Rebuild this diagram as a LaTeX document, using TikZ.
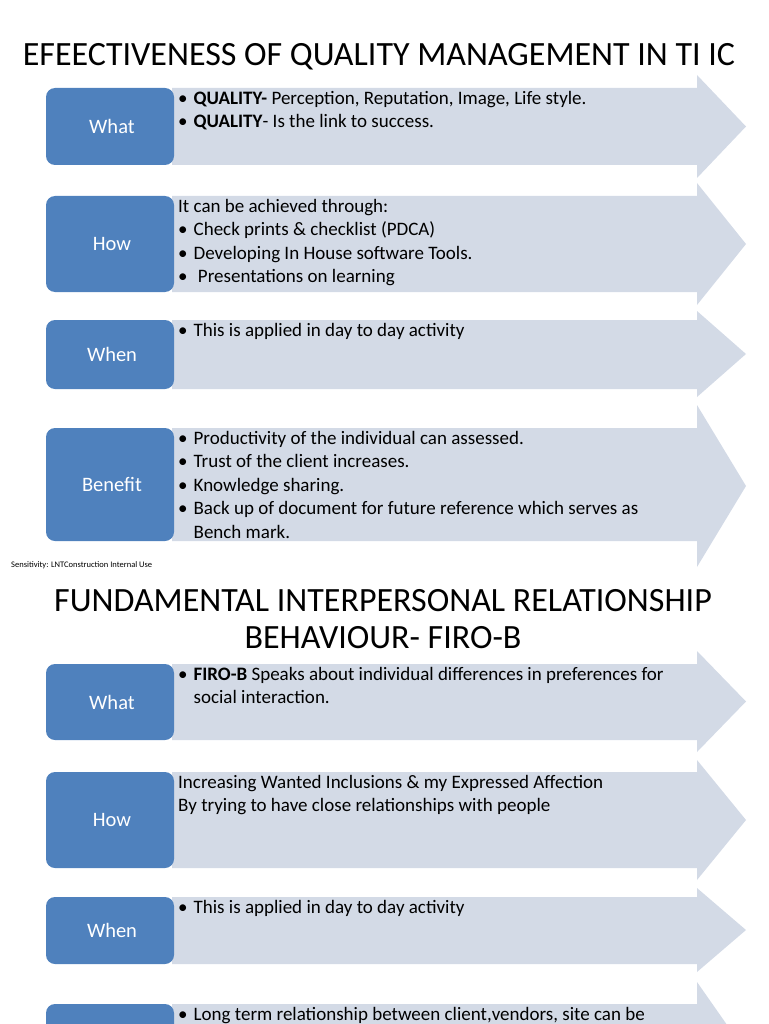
\documentclass[tikz,border=0pt]{standalone}
\usepackage{fontspec}
\setmainfont{Carlito}
\newcommand\bu{\textbullet\hspace{6pt}}
\begin{document}
\begin{tikzpicture}[x=1pt,y=-1pt,
  box/.style={fill=boxblue,draw=none,rounded corners=9pt},
  arr/.style={fill=arrfill,draw=none},
  txt/.style={anchor=north west,align=left,font=\fontsize{19}{23.5}\selectfont,inner sep=0pt},
  ttl/.style={font=\fontsize{34}{37}\selectfont,align=center}]
\definecolor{boxblue}{HTML}{4F81BD}
\definecolor{arrfill}{HTML}{D3DAE6}
\useasboundingbox (0,0) rectangle (768,1024);
\newcommand\myrow[7]{%
  \fill[arr] (172,#2) -- (697,#2) -- (697,#4) -- (746,{(#4+#5)/2}) -- (697,#5) -- (697,#3) -- (172,#3) -- cycle;
  \path[box] (46,#2) rectangle (174,#3);
  \node[text=white,font=\fontsize{20.5}{24}\selectfont] (#1) at (112,{(#2+#3)/2}) {#6};
  \node[txt] (#1t) at (178,{#2+3}) {#7};}
\node[ttl] (t1) at (379,57) {EFEECTIVENESS OF QUALITY MANAGEMENT IN TI IC};
\myrow{a}{88}{165}{75}{178}{What}{\bu\textbf{QUALITY-} Perception, Reputation, Image, Life style.\\\bu\textbf{QUALITY}- Is the link to success.}
\myrow{b}{196}{292}{183}{305}{How}{It can be achieved through:\\\bu Check prints \& checklist (PDCA)\\\bu Developing In House software Tools.\\\bu\ Presentations on learning}
\myrow{c}{320}{389}{311}{397}{When}{\bu This is applied in day to day activity}
\myrow{d}{428}{541}{405}{567}{Benefit}{\bu Productivity of the individual can assessed.\\\bu Trust of the client increases.\\\bu Knowledge sharing.\\\bu Back up of document for future reference which serves as\\\phantom{\bu}Bench mark.}
\node[anchor=west,font=\fontsize{8.5}{9}\selectfont,inner sep=0pt] (sens) at (11,565) {Sensitivity: LNTConstruction Internal Use};
\node[ttl] (t2) at (383,619) {FUNDAMENTAL INTERPERSONAL RELATIONSHIP\\BEHAVIOUR- FIRO-B};
\myrow{e}{664}{740}{651}{752}{What}{\bu\textbf{FIRO-B} Speaks about individual differences in preferences for\\\phantom{\bu}social interaction.}
\myrow{f}{772}{868}{760}{880}{How}{Increasing Wanted Inclusions \& my Expressed Affection\\By trying to have close relationships with people}
\myrow{g}{897}{964}{888}{972}{When}{\bu This is applied in day to day activity}
\myrow{h}{1004}{1100}{982}{1122}{}{\bu Long term relationship between client,vendors, site can be}
\end{tikzpicture}
\end{document}
